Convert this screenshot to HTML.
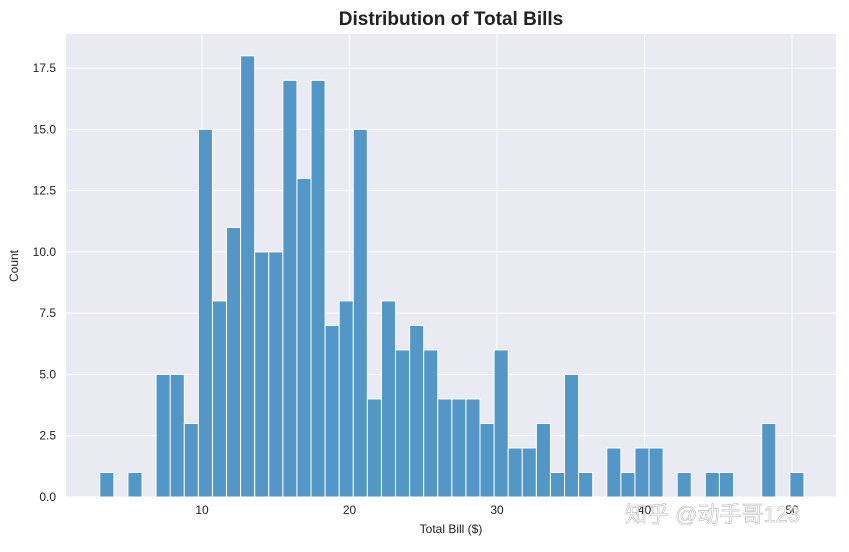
<!DOCTYPE html>
<html><head><meta charset="utf-8"><style>
body{margin:0;background:#fff;font-family:"Liberation Sans","Noto Sans CJK SC",sans-serif;}
svg text{font-family:"Liberation Sans","Noto Sans CJK SC",sans-serif;}
</style></head><body>
<svg id="chart" width="849" height="547">
<rect x="66" y="34" width="770" height="463" fill="#eaeaf2"/>
<g id="grid"></g><g id="bars"></g><g id="ticks"></g>
<text x="451" y="25" text-anchor="middle" font-size="19" font-weight="bold" fill="#222">Distribution of Total Bills</text>
<text x="451" y="533" text-anchor="middle" font-size="12" fill="#222">Total Bill ($)</text>
<text x="18" y="266" text-anchor="middle" font-size="12" fill="#222" transform="rotate(-90 18 266)">Count</text>
<text x="625" y="522" font-size="22" fill="#ffffff" fill-opacity="0.85" stroke="#bbb" stroke-width="0.6">知乎 @动手哥123</text>
</svg>
<script>
const binStart = 3.07;
const binWidth = 0.9548;
const counts = [1,0,1,0,5,5,3,15,8,11,18,10,10,17,13,17,7,8,15,4,8,6,7,6,4,4,4,3,6,2,2,3,1,5,1,0,2,1,2,2,0,1,0,1,1,0,0,3,0,1];
const xTicks = [10,20,30,40,50];
const yTicks = [0,2.5,5,7.5,10,12.5,15,17.5];
const ns = "http://www.w3.org/2000/svg";
const xs = v => 202 + (v - 10) * 14.75;
const ys = v => 497 - v * 24.51;
const grid = document.getElementById('grid'), bars = document.getElementById('bars'), ticks = document.getElementById('ticks');
function mk(tag, attrs, parent){const e=document.createElementNS(ns,tag);for(const k in attrs)e.setAttribute(k,attrs[k]);parent.appendChild(e);return e;}
xTicks.forEach(t=>{
  const l=mk('line',{x1:xs(t),x2:xs(t),y1:34,y2:497,stroke:'#fff','stroke-width':1},grid);
  
  
  const tx=mk('text',{x:xs(t),y:514,'text-anchor':'middle','font-size':12,fill:'#222'},ticks);
  tx.textContent=t;
  
  
});
yTicks.forEach(t=>{
  const l=mk('line',{x1:66,x2:836,y1:ys(t),y2:ys(t),stroke:'#fff','stroke-width':1},grid);
  
  
  const tx=mk('text',{x:56,y:ys(t)+4,'text-anchor':'end','font-size':12,fill:'#222'},ticks);
  tx.textContent=t.toFixed(1);
  
  
});
counts.forEach((c,i)=>{
  if(c===0)return;
  const x0=xs(binStart+i*binWidth), x1=xs(binStart+(i+1)*binWidth);
  const r=mk('rect',{x:x0,y:ys(c),width:x1-x0,height:ys(0)-ys(c),fill:'#5297c6',stroke:'#fff','stroke-width':1},bars);
  
  
});
</script>
</body></html>
